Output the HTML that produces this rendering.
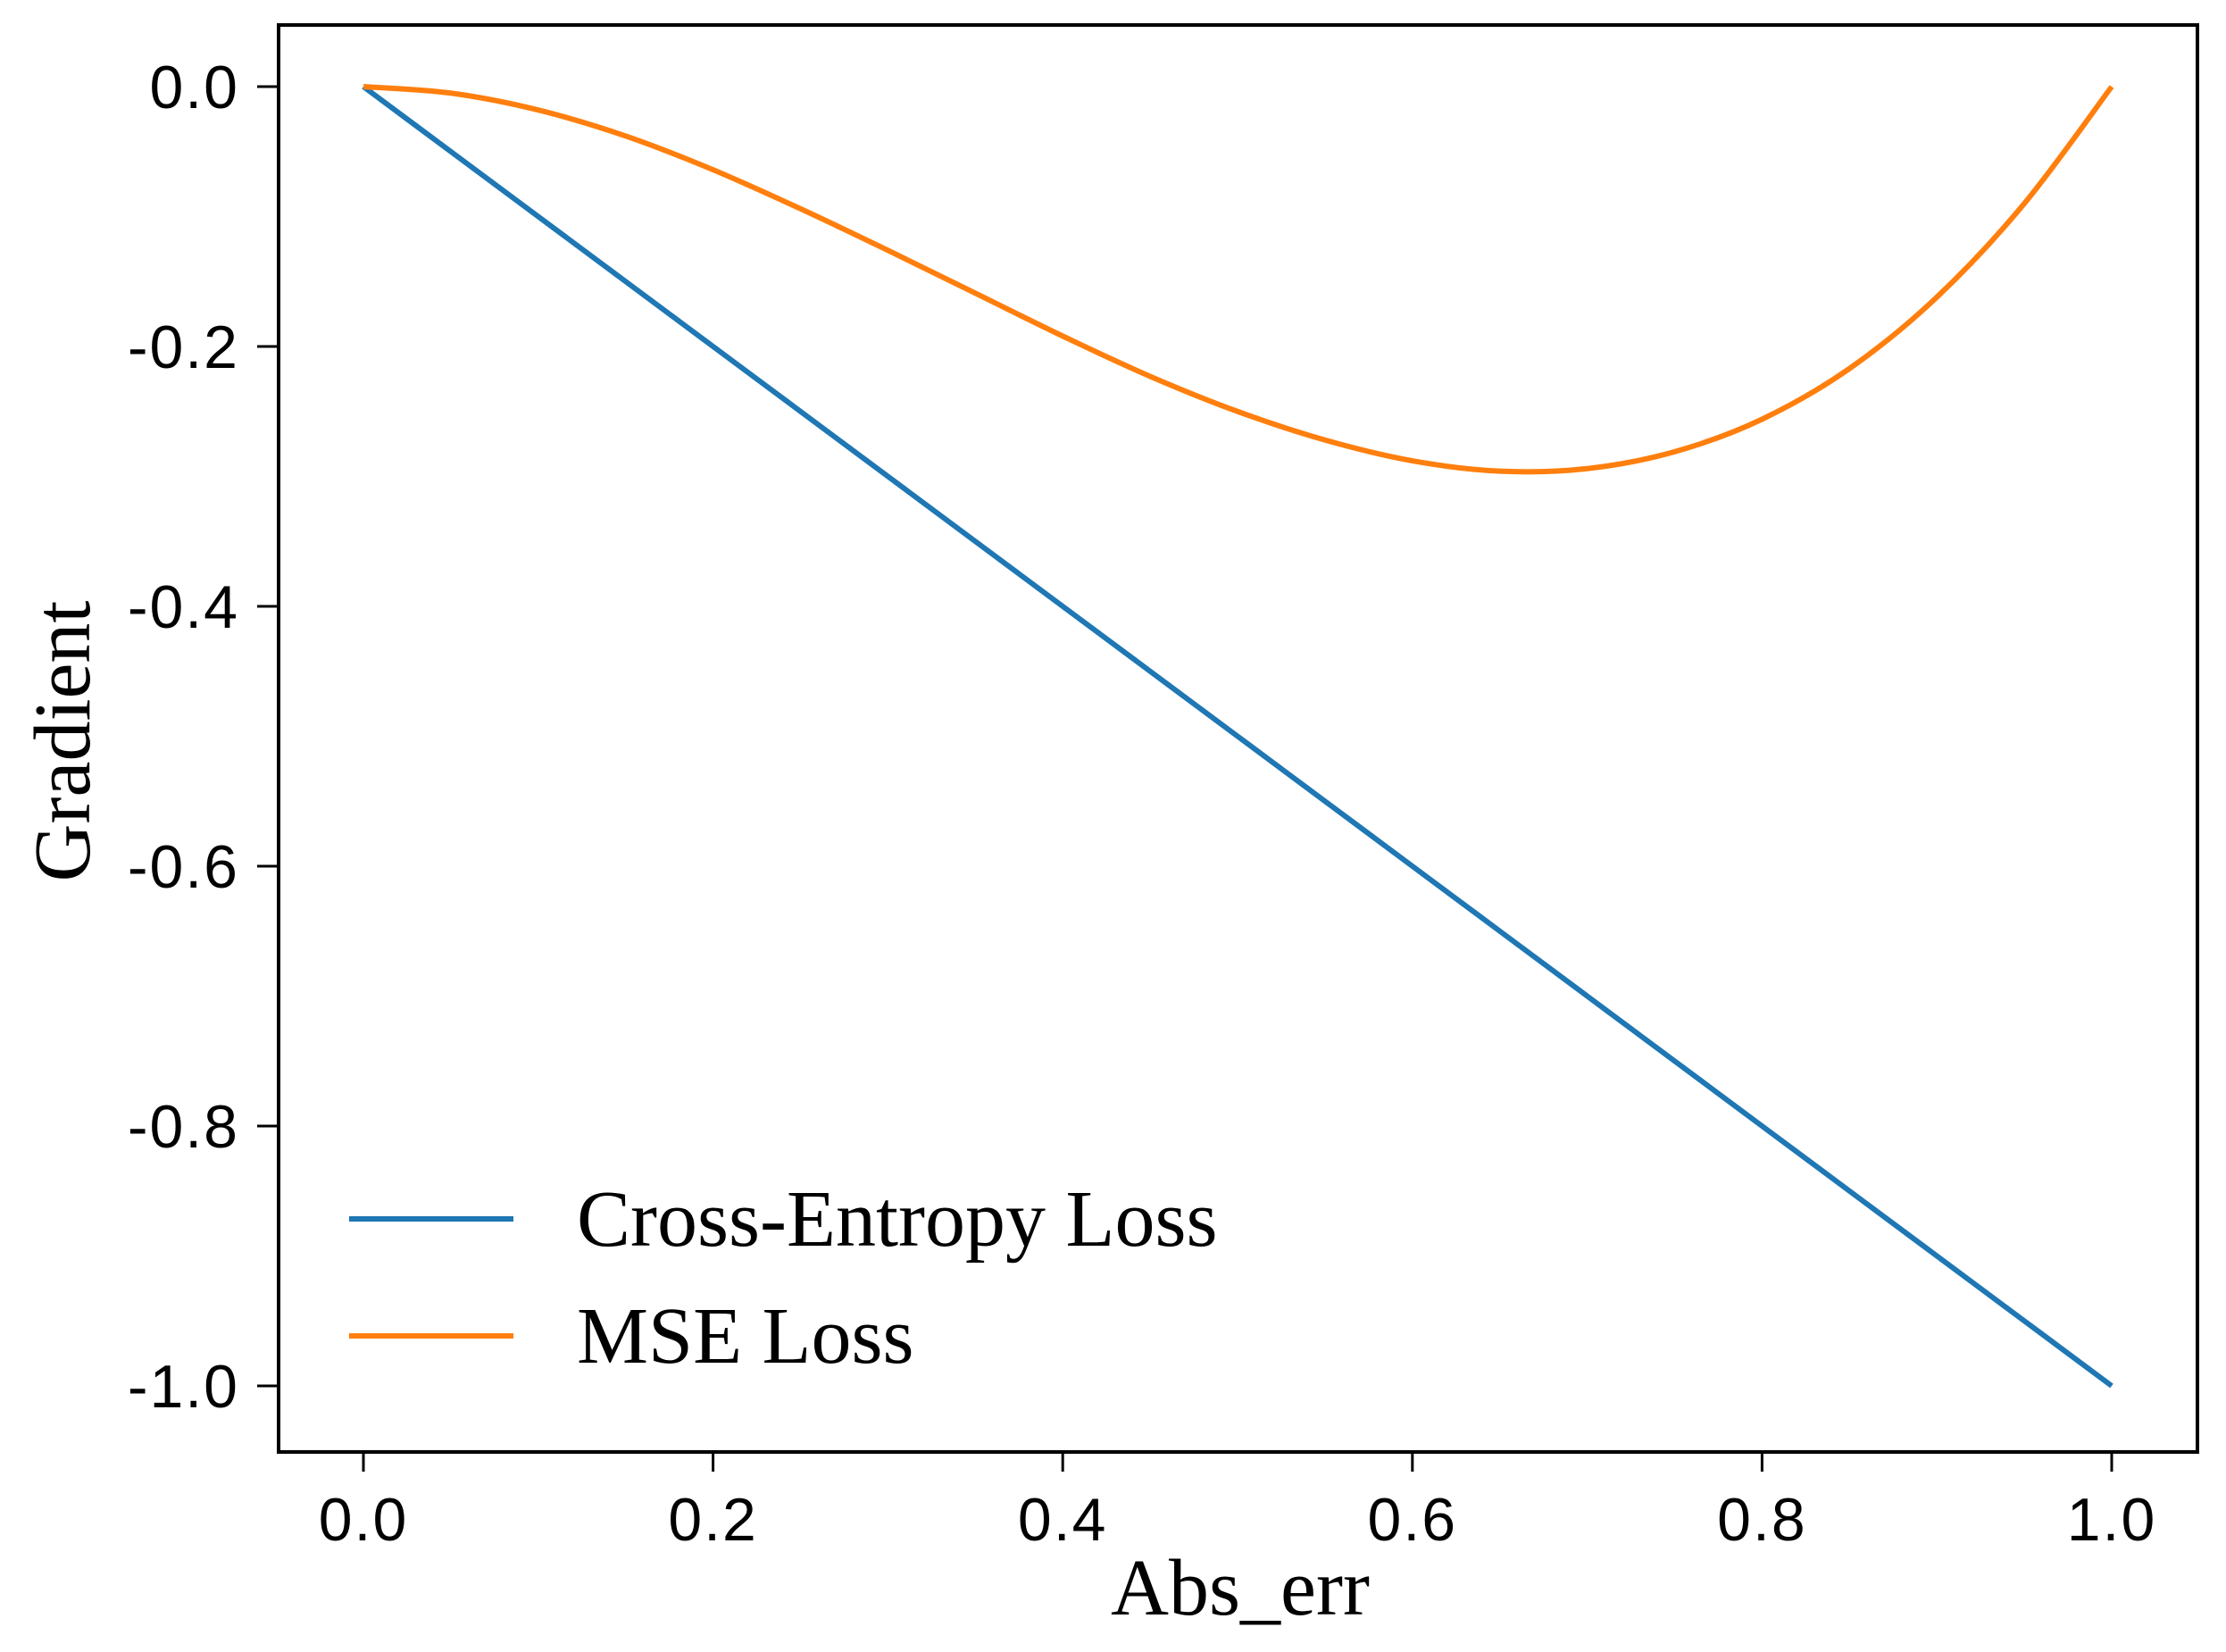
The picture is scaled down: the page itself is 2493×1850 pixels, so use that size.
<!DOCTYPE html>
<html><head><meta charset="utf-8"><style>
html,body{margin:0;padding:0;background:#fff;}
svg{display:block;}
.tick{font-family:"Liberation Sans","WenQuanYi Zen Hei",sans-serif;font-size:68px;fill:#000;letter-spacing:2px;}
.lab{font-family:"Liberation Serif",serif;font-size:90px;fill:#000;}
</style></head><body>
<svg id="chart" width="2493" height="1850" viewBox="0 0 2493 1850" xmlns="http://www.w3.org/2000/svg">
<g id="plot"></g>
</svg>
<script>
const xs = [0,0.05,0.1,0.15,0.2,0.25,0.3,0.35,0.4,0.45,0.5,0.55,0.6,0.65,0.7,0.75,0.8,0.85,0.9,0.95,1];
const ceValues = [0,-0.05,-0.1,-0.15,-0.2,-0.25,-0.3,-0.35,-0.4,-0.45,-0.5,-0.55,-0.6,-0.65,-0.7,-0.75,-0.8,-0.85,-0.9,-0.95,-1];
const mseValues = [0,-0.005,-0.018,-0.038,-0.064,-0.094,-0.126,-0.159,-0.192,-0.223,-0.25,-0.272,-0.288,-0.296,-0.294,-0.281,-0.256,-0.217,-0.162,-0.090,0];
const xTicks = [0,0.2,0.4,0.6,0.8,1.0];
const xTickLabels = ["0.0","0.2","0.4","0.6","0.8","1.0"];
const yTicks = [0,-0.2,-0.4,-0.6,-0.8,-1.0];
const yTickLabels = ["0.0","-0.2","-0.4","-0.6","-0.8","-1.0"];
const seriesNames = ["Cross-Entropy Loss","MSE Loss"];

const NS="http://www.w3.org/2000/svg";
const g=document.getElementById('plot');
const X0=407,X1=2365,Y0=97,Y1=1552;
const L=312,R=2461,T=28,B=1626;
function sx(v){return X0+(X1-X0)*v;}
function sy(v){return Y0+(Y1-Y0)*(-v);}
function mk(tag,attrs){const e=document.createElementNS(NS,tag);for(const k in attrs)e.setAttribute(k,attrs[k]);g.appendChild(e);return e;}

function smoothPath(px,py){
  let d=`M${px[0]},${py[0]}`;
  for(let i=0;i<px.length-1;i++){
    const x0=px[Math.max(i-1,0)],y0=py[Math.max(i-1,0)];
    const x1=px[i],y1=py[i],x2=px[i+1],y2=py[i+1];
    const x3=px[Math.min(i+2,px.length-1)],y3=py[Math.min(i+2,px.length-1)];
    d+=` C${x1+(x2-x0)/6},${y1+(y2-y0)/6} ${x2-(x3-x1)/6},${y2-(y3-y1)/6} ${x2},${y2}`;
  }
  return d;
}

let p=mk('path',{d:smoothPath(xs.map(sx),ceValues.map(sy)),fill:'none',stroke:'#1f77b4','stroke-width':6});


p=mk('path',{d:smoothPath(xs.map(sx),mseValues.map(sy)),fill:'none',stroke:'#ff7f0e','stroke-width':6});



let fr=mk('rect',{x:L,y:T,width:R-L,height:B-T,fill:'none',stroke:'#000','stroke-width':4});



xTicks.forEach((v,i)=>{
  const t=mk('line',{x1:sx(v),x2:sx(v),y1:B,y2:B+22,stroke:'#000','stroke-width':3});
  
  
  const tx=mk('text',{x:sx(v),y:1725,'text-anchor':'middle',class:'tick'});
  tx.textContent=xTickLabels[i];
  
  
});
yTicks.forEach((v,i)=>{
  const t=mk('line',{x1:L-24,x2:L,y1:sy(v),y2:sy(v),stroke:'#000','stroke-width':3});
  
  
  const tx=mk('text',{x:268,y:sy(v)+24,'text-anchor':'end',class:'tick'});
  tx.textContent=yTickLabels[i];
  
  
});

let xl=mk('text',{x:1389,y:1808,'text-anchor':'middle',class:'lab'});
xl.textContent='Abs_err';


let yl=mk('text',{x:0,y:0,'text-anchor':'middle',class:'lab',transform:'translate(100,830) rotate(-90)'});
yl.textContent='Gradient';



const colors=['#1f77b4','#ff7f0e'];
const ly=[1365,1496];
seriesNames.forEach((n,i)=>{
  const l=mk('line',{x1:391,x2:575,y1:ly[i],y2:ly[i],stroke:colors[i],'stroke-width':6});
  
  
  const t=mk('text',{x:646,y:ly[i]+30,class:'lab'});
  t.textContent=n;
  
  
});
</script>
</body></html>
